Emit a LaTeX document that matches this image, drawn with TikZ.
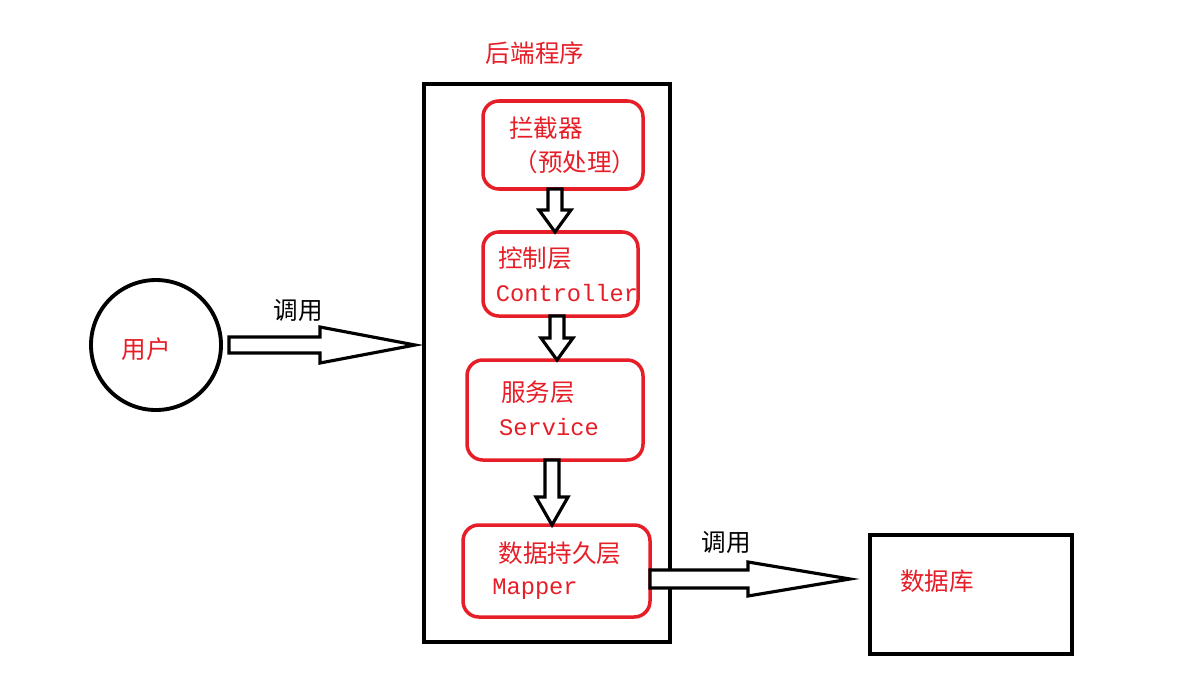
\documentclass[tikz,border=0pt]{standalone}
\usepackage{fontspec}
\newfontfamily\cjk{Noto Sans CJK SC}
\setmonofont{Liberation Mono}
\usetikzlibrary{calc}
\definecolor{myred}{RGB}{230,30,40}
\tikzset{
    lay/.style={rectangle, rounded corners=9pt, draw=myred, line width=2pt},
    big/.style={rectangle, draw=black, line width=2.2pt},
    zh/.style={inner sep=0pt, font=\cjk\fontsize{14}{16}\selectfont},
    en/.style={inner sep=0pt, font=\ttfamily\fontsize{13.5}{15}\selectfont, text=myred},
    hol/.style={draw=black, line width=1.8pt, fill=white},
}
\begin{document}
\begin{tikzpicture}[x=0.02cm, y=-0.02cm]
    \useasboundingbox (0,0) rectangle (1195,683);
    % boxes
    \draw [big] (424,84) rectangle (670,642);
    \draw [big] (870,535) rectangle (1072,654);
    \draw [line width=2.2pt] (156,345) circle (65);
    \draw [lay] (483,101) rectangle (643,189);
    \draw [lay] (483,232) rectangle (638,316);
    \draw [lay] (467,360) rectangle (643,460);
    \draw [lay] (463,525) rectangle (650,617);
    % texts
    \node (title) at (535,53) [zh, text=myred] {后端程序};
    \node (ic1) at (546,128) [zh, text=myred] {拦截器};
    \node (ic2) at (575,162) [zh, text=myred] {（预处理）};
    \node (ct1) at (535,258) [zh, text=myred] {控制层};
    \node (ct2) at (567,293) [en] {Controller};
    \node (sv1) at (538,392) [zh, text=myred] {服务层};
    \node (sv2) at (549,427) [en] {Service};
    \node (mp1) at (560,553) [zh, text=myred] {数据持久层};
    \node (mp2) at (535,589) [en] {Mapper};
    \node (user) at (146,349) [zh, text=myred] {用户};
    \node (db) at (937,581) [zh, text=myred] {数据库};
    \node (call1) at (298,310) [zh] {调用};
    \node (call2) at (726,542) [zh] {调用};
    % hollow arrows
    \coordinate (h1a) at (229,345); \coordinate (h1b) at (415,345);
    \draw [hol] (h1a) ++(0,-8) -- ++(91,0) -- ++(0,-10) -- (h1b) -- ($(h1a)+(91,18)$) -- ++(0,-10) -- ($(h1a)+(0,8)$) -- cycle;
    \coordinate (h2a) at (650,579); \coordinate (h2b) at (850,579);
    \draw [hol] (h2a) ++(0,-9) -- ++(98,0) -- ++(0,-8) -- (h2b) -- ($(h2a)+(98,17)$) -- ++(0,-8) -- ($(h2a)+(0,9)$) -- cycle;
    \foreach \x/\ya/\yb/\yh in {555/189/232/210, 557/316/360/338, 552/460/525/497} {
        \draw [hol] (\x-7,\ya) -- (\x+7,\ya) -- (\x+7,\yh) -- (\x+16,\yh) -- (\x,\yb) -- (\x-16,\yh) -- (\x-7,\yh) -- cycle;
    }
\end{tikzpicture}
\end{document}
